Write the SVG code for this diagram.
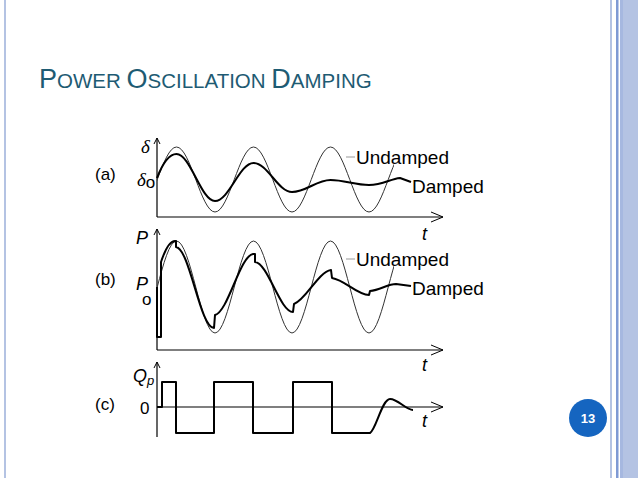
<svg xmlns="http://www.w3.org/2000/svg" width="638" height="478" viewBox="0 0 638 478">
<style>
.lbl{font-family:"Liberation Sans",Arial,sans-serif;font-size:17px;fill:#000}
.big{font-family:"Liberation Sans",Arial,sans-serif;font-size:19px;fill:#000}
.it{font-family:"Liberation Serif","Times New Roman",serif;font-style:italic;font-size:19px;fill:#000}
.iti{font-family:"Liberation Sans",Arial,sans-serif;font-style:italic;font-size:18px;fill:#000}
.ax{fill:none;stroke:#000;stroke-width:1.2}
.und{fill:none;stroke:#333;stroke-width:1}
.dmp{fill:none;stroke:#000;stroke-width:2;stroke-linejoin:round}
.lead{fill:none;stroke:#999;stroke-width:1}
</style>
<defs>
<clipPath id="ca"><rect x="157" y="130" width="237" height="100"/></clipPath>
<clipPath id="cb"><rect x="157" y="225" width="237" height="125"/></clipPath>
<marker id="arr" markerWidth="14" markerHeight="12" refX="13" refY="6" orient="auto" markerUnits="userSpaceOnUse"><path d="M1,1 L13,6 L1,11" fill="none" stroke="#000" stroke-width="1"/></marker>
<marker id="arrs" markerWidth="8" markerHeight="8" refX="7" refY="4" orient="auto" markerUnits="userSpaceOnUse"><path d="M1,1 L7,4 L1,7" fill="none" stroke="#000" stroke-width="1"/></marker>
</defs>
<rect width="638" height="478" fill="#fff"/>
<g id="frame">
<rect x="4" y="0" width="2" height="478" fill="#b4c3e3"/>
<rect x="610" y="0" width="2" height="478" fill="#b4c3e3"/>
<rect x="616" y="0" width="2.5" height="478" fill="#7f9ad4"/>
<rect x="620" y="0" width="3" height="478" fill="#a6b8e0"/>
<rect x="623" y="0" width="15" height="478" fill="#b4c3e3"/>
</g>
<text id="title" x="39" y="88" font-family="Liberation Sans,Arial,sans-serif" fill="#1e5b73" font-size="20.5"><tspan font-size="27">P</tspan>OWER <tspan font-size="27">O</tspan>SCILLATION <tspan font-size="27">D</tspan>AMPING</text>
<g id="pagenum">
<circle cx="588" cy="418" r="19" fill="#1565c0"/>
<text x="588" y="423" text-anchor="middle" font-family="Liberation Sans,Arial,sans-serif" font-weight="bold" font-size="13" fill="#fff">13</text>
</g>
<g id="plot-a">
<text class="lbl" x="95" y="180">(a)</text>
<text class="it" x="141" y="153">δ</text>
<text class="it" x="137" y="186">δ<tspan class="lbl" font-style="normal" font-size="13" dy="2">o</tspan></text>
<text class="iti" x="422" y="240">t</text>
<line class="ax" x1="157" y1="217" x2="157" y2="138" marker-end="url(#arrs)"/>
<line class="ax" x1="157" y1="217" x2="443" y2="217" marker-end="url(#arr)"/>
<g clip-path="url(#ca)">
<path class="und" d="M138,212 C152,212 162.5,147 176.5,147 C190.5,147 201,212 215,212 C229,212 239.5,147 253.5,147 C267.5,147 278,212 292,212 C306,212 316.5,147 330.5,147 C344.5,147 355,212 369,212 C383,212 393.5,147 407.5,147"/>
</g>
<path class="dmp" d="M157,178 C162,165 168,154 176.5,154 C190.5,154 201,201 215,201 C229,201 239.5,163 253.5,163 C267.5,163 278,192 292,192 C306,192 316.5,180 330.5,180 C344.5,180 355,185 369,185 C383,185 390,179 400,178 L411,182"/>
<line class="lead" x1="346" y1="157" x2="355" y2="157"/>
<text class="big" x="356" y="164">Undamped</text>
<text class="big" x="412" y="193">Damped</text>
</g>
<g id="plot-b">
<text class="lbl" x="95" y="285">(b)</text>
<text class="iti" x="136" y="244">P</text>
<text class="iti" x="136" y="290">P</text>
<text class="lbl" x="142" y="305" font-size="12">o</text>
<text class="iti" x="422" y="371">t</text>
<line class="ax" x1="157" y1="350" x2="157" y2="229" marker-end="url(#arrs)"/>
<line class="ax" x1="157" y1="350" x2="443" y2="350" marker-end="url(#arr)"/>
<g clip-path="url(#cb)">
<path class="und" d="M138,333 C152,333 162.5,241 176.5,241 C190.5,241 201,333 215,333 C229,333 239.5,241 253.5,241 C267.5,241 278,333 292,333 C306,333 316.5,241 330.5,241 C344.5,241 355,333 369,333 C383,333 393.5,241 407.5,241"/>
</g>
<path class="dmp" d="M157,287 L157,337 L161,337 L161,262 C165,250 170,241 175,241 L176,241 L176,247 C190,249 200,328 214,328 L215,315 C228,312 240,256 253,254 L255,254 L255,262 C268,263 280,312 293,312 L294,304 C306,300 318,272 331,270 L332,278 C345,280 357,295 369,295 L370,291 C380,290 388,284 396,284 L411,286"/>
<line class="lead" x1="346" y1="259" x2="355" y2="259"/>
<text class="big" x="356" y="266">Undamped</text>
<text class="big" x="412" y="295">Damped</text>
</g>
<g id="plot-c">
<text class="lbl" x="95" y="410">(c)</text>
<text class="iti" x="133" y="382">Q<tspan font-size="13" dy="3">p</tspan></text>
<text class="lbl" x="140" y="414">0</text>
<text class="iti" x="422" y="427">t</text>
<line class="ax" x1="157" y1="437" x2="157" y2="362" marker-end="url(#arrs)"/>
<line class="ax" x1="157" y1="407" x2="443" y2="407" marker-end="url(#arr)"/>
<path class="dmp" d="M157,407 L162,407 L162,382 L176,382 L176,433 L214,433 L214,382 L253,382 L253,433 L293,433 L293,382 L332,382 L332,433 L370,433 C376,430 382,399 390,399 C398,399 406,410 413,410"/>
</g>
</svg>
